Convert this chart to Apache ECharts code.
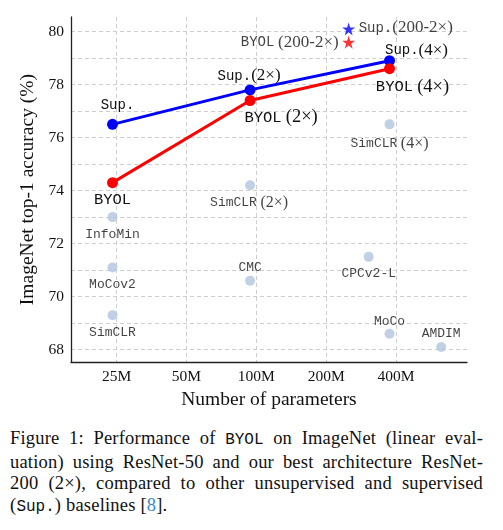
<!DOCTYPE html>
<html>
<head>
<meta charset="utf-8">
<script src="https://cdn.jsdelivr.net/npm/echarts@6/dist/echarts.min.js"></script>
<style>
  html, body { margin: 0; padding: 0; background: #fff; }
  #chart { width: 503px; height: 415px; }
  #caption {
    position: absolute; left: 10px; top: 428px; width: 473px;
    font-family: "Liberation Serif", serif; font-size: 18.5px; line-height: 21.5px; color: #111;
    letter-spacing: 0.2px;
  }
  #caption div { text-align: justify; text-align-last: justify; white-space: nowrap; }
  #caption div.last { text-align-last: left; }
  .tt { font-family: "Liberation Mono", monospace; font-size: 16px; letter-spacing: 0; }
  .ref { color: #3b87c6; }
</style>
</head>
<body>
<div id="chart"></div>
<div id="caption">
  <div>Figure 1: Performance of <span class="tt">BYOL</span> on ImageNet (linear eval-</div>
  <div>uation) using ResNet-50 and our best architecture ResNet-</div>
  <div>200 (2×), compared to other unsupervised and supervised</div>
  <div class="last">(<span class="tt">Sup.</span>) baselines [<span class="ref">8</span>].</div>
</div>
<script>
// parameters in millions, top-1 accuracy in %
const supParams = [24, 94, 375];
const supAcc = [76.5, 77.8, 78.9];
const supNames = ['Sup.', 'Sup.(2×)', 'Sup.(4×)'];

const byolParams = [24, 94, 375];
const byolAcc = [74.3, 77.4, 78.6];
const byolNames = ['BYOL', 'BYOL (2×)', 'BYOL (4×)'];

const starNames = ['Sup.(200-2×)', 'BYOL (200-2×)'];
const starParams = [250, 250];
const starAcc = [80.1, 79.6];

const otherNames = ['InfoMin', 'MoCov2', 'SimCLR', 'SimCLR (2×)', 'SimCLR (4×)', 'CMC', 'CPCv2-L', 'MoCo', 'AMDIM'];
const otherParams = [24, 24, 24, 94, 375, 94, 305, 375, 626];
const otherAcc = [73.0, 71.1, 69.3, 74.2, 76.5, 70.6, 71.5, 68.6, 68.1];

const xTicks = [25, 50, 100, 200, 400];
const yTicks = [68, 70, 72, 74, 76, 78, 80];
const yGrid = [68, 69, 70, 71, 72, 73, 74, 75, 76, 77, 78, 79, 80];

// where each label sits relative to its marker (px)
const labelOffset = {
  'Sup.': [5, -19], 'Sup.(2×)': [-1, -14], 'Sup.(4×)': [27, -10],
  'BYOL': [0, 17], 'BYOL (2×)': [31, 17], 'BYOL (4×)': [23, 18],
  'InfoMin': [0, 17], 'MoCov2': [0, 17], 'SimCLR': [0, 17],
  'SimCLR (2×)': [-1, 17], 'SimCLR (4×)': [0, 19], 'CMC': [0, -13],
  'CPCv2-L': [0, 17], 'MoCo': [0, -12], 'AMDIM': [0, -13]
};
const bigNames = ['Sup.', 'Sup.(2×)', 'Sup.(4×)', 'BYOL', 'BYOL (2×)', 'BYOL (4×)'];

const MONO = 'Liberation Mono';
const SERIF = 'Liberation Serif';

function richName(name) {
  const m = name.match(/^(\S+?)(\s?)(\(.*\))?$/);
  let s = '{m|' + m[1] + '}';
  if (m[3]) s += (m[2] ? '{sp| }' : '') + '{s|' + m[3] + '}';
  return s;
}
function richStyle(size) {
  return {
    m: { fontFamily: MONO, fontSize: size, color: '#111' },
    s: { fontFamily: SERIF, fontSize: size + 3, color: '#111' },
    sp: { fontFamily: SERIF, fontSize: size + 1 }
  };
}

function pts(names, xs, ys) {
  return names.map((n, i) => ({
    name: n,
    value: [xs[i], ys[i]],
    label: {
      show: true, position: 'inside', align: 'center', verticalAlign: 'middle',
      offset: labelOffset[n] || [0, 0],
      formatter: richName(n),
      rich: richStyle(bigNames.indexOf(n) >= 0 ? (n.startsWith('BYOL') ? 15.5 : 14) : 13)
    }
  }));
}

const STAR = 'path://M50,0 L61.2,34.5 L97.6,34.5 L68.2,55.9 L79.4,90.5 L50,69.1 L20.6,90.5 L31.8,55.9 L2.4,34.5 L38.8,34.5 Z';

const chart = echarts.init(document.getElementById('chart'), null, { renderer: 'canvas' });
chart.setOption({
  animation: false,
  backgroundColor: '#fff',
  grid: { left: 71, right: 36, top: 17, bottom: 48 },
  xAxis: {
    type: 'log', logBase: 2, min: 15.9, max: 809,
    name: 'Number of parameters', nameLocation: 'middle', nameGap: 25,
    nameTextStyle: { fontFamily: SERIF, fontSize: 19.5, color: '#111' },
    axisLine: { lineStyle: { color: '#222', width: 1.3 } },
    axisTick: { show: false, customValues: xTicks },
    axisLabel: { customValues: xTicks, formatter: v => v + 'M', fontFamily: SERIF, fontSize: 15.5, color: '#111', margin: 7 },
    splitLine: { show: true, lineStyle: { color: '#c8c8c8', type: [4, 3], width: 0.9 } }
  },
  yAxis: {
    type: 'value', min: 67.53, max: 80.55,
    name: 'ImageNet top-1 accuracy (%)', nameLocation: 'middle', nameGap: 30,
    nameTextStyle: { fontFamily: SERIF, fontSize: 19.5, color: '#111' },
    axisLine: { show: true, lineStyle: { color: '#222', width: 1.3 } },
    axisTick: { show: false, customValues: yGrid },
    axisLabel: { customValues: yTicks, fontFamily: SERIF, fontSize: 15.5, color: '#111', margin: 7 },
    splitLine: { show: true, lineStyle: { color: '#c8c8c8', type: [4, 3], width: 0.9 } }
  },
  series: [
    {
      type: 'scatter', name: 'others', symbol: 'circle', symbolSize: 10,
      itemStyle: { color: '#b0c4de' },
      data: pts(otherNames, otherParams, otherAcc)
    },
    {
      type: 'line', name: 'Sup', symbol: 'circle', symbolSize: 11, z: 3,
      lineStyle: { color: '#0000ff', width: 3 }, itemStyle: { color: '#0000ff' },
      data: pts(supNames, supParams, supAcc)
    },
    {
      type: 'line', name: 'BYOL', symbol: 'circle', symbolSize: 11, z: 4,
      lineStyle: { color: '#ff0000', width: 3 }, itemStyle: { color: '#ff0000' },
      data: pts(byolNames, byolParams, byolAcc)
    },
    {
      type: 'scatter', name: 'stars', symbol: STAR, symbolSize: 13,
      data: starNames.map((n, i) => ({
        name: n, value: [starParams[i], starAcc[i]],
        itemStyle: { color: i === 0 ? '#0000ff' : '#ff0000' },
        label: {
          show: true, position: 'inside', verticalAlign: 'middle',
          align: i === 0 ? 'left' : 'right', offset: i === 0 ? [10, -1] : [-10, 0],
          formatter: richName(n), rich: richStyle(14)
        }
      }))
    }
  ]
});
</script>
</body>
</html>
